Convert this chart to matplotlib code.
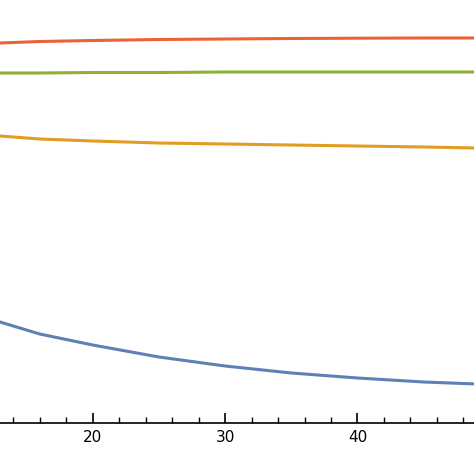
import matplotlib.pyplot as plt
import matplotlib.ticker as tck

x = [13, 16, 20, 25, 30, 35, 40, 45, 49]
blue = [101, 89, 78, 66, 57, 50, 45, 41, 39]
orange = [287, 284, 282, 280, 279, 278, 277, 276, 275]
green = [350, 350, 350.5, 350.5, 351, 351, 351, 351, 351]
red = [380, 381.5, 382.5, 383.5, 384, 384.5, 384.8, 385, 385]

fig = plt.figure(figsize=(4.74, 4.74), dpi=100)
ax = fig.add_axes([0, 51 / 474, 1, 423 / 474])
lw = 2.2
ax.plot(x, blue, color='#5e81b5', lw=lw)
ax.plot(x, orange, color='#e19c24', lw=lw)
ax.plot(x, green, color='#8fb032', lw=lw)
ax.plot(x, red, color='#eb6235', lw=lw)

ax.set_xlim(13, 48.8)
ax.set_ylim(0, 423)
for s in ('top', 'right', 'left'):
    ax.spines[s].set_visible(False)
ax.spines['bottom'].set_linewidth(1.2)
ax.set_yticks([])
ax.xaxis.set_major_locator(tck.FixedLocator([20, 30, 40]))
ax.xaxis.set_minor_locator(tck.MultipleLocator(2))
ax.tick_params(axis='x', which='major', direction='in', length=7, width=1.2, labelsize=11, pad=5)
ax.tick_params(axis='x', which='minor', direction='in', length=4, width=1)

fig.savefig('out.png', dpi=100)
